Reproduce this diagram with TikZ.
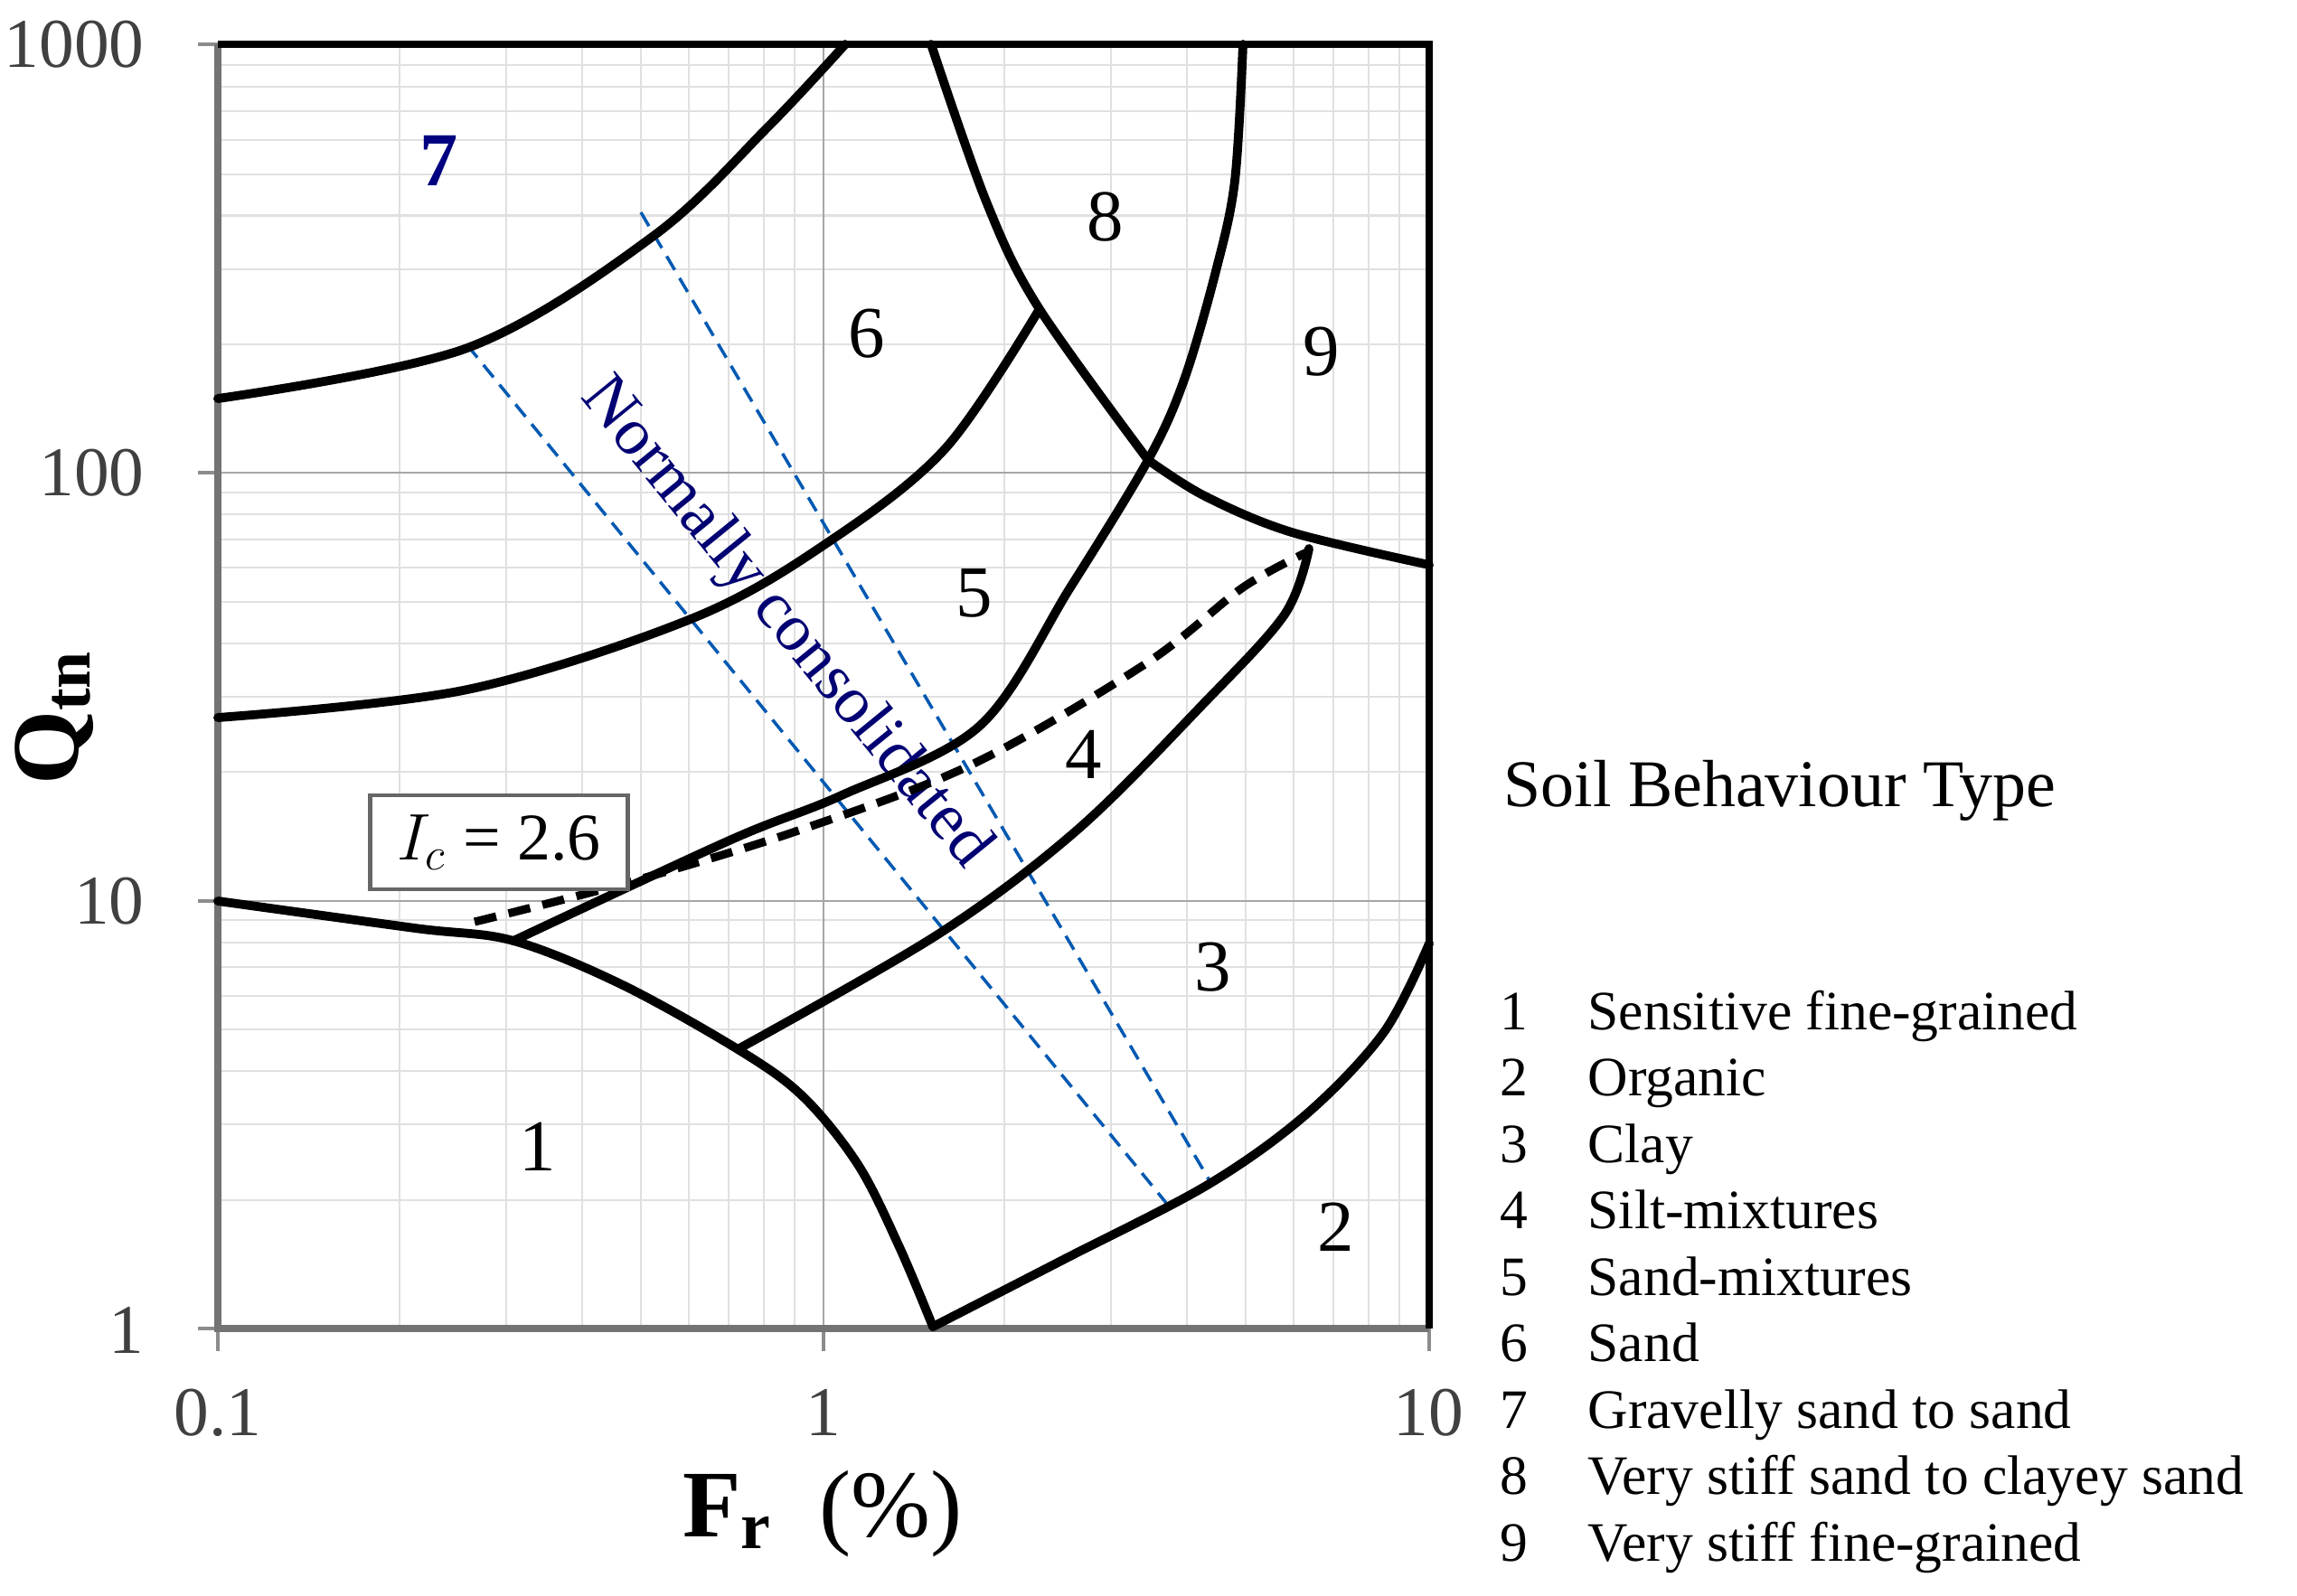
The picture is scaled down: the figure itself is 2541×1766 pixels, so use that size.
\documentclass[tikz,border=0pt]{standalone}
\usepackage{fontspec}
\setmainfont{Liberation Serif}
\begin{document}
\begin{tikzpicture}[x=0.01cm,y=-0.01cm,
  minorgrid/.style={draw=black!12,line width=0.6pt},
  majorgrid/.style={draw=black!35,line width=0.8pt},
  zone/.style={draw=black,line width=2.8pt,line cap=round,line join=round},
  ncline/.style={draw=blue!50!cyan!70!black,line width=1pt,dash pattern=on 5pt off 3pt},
  icline/.style={draw=black,line width=2.6pt,dash pattern=on 7pt off 4pt},
  ticklab/.style={font=\fontsize{22}{22}\selectfont,text=black!75},
  znum/.style={font=\fontsize{23}{23}\selectfont},
  leg/.style={font=\fontsize{17.5}{17.5}\selectfont,anchor=base west,inner sep=0pt}]
\useasboundingbox[fill=white] (0,0) rectangle (2541,1766);
% grid
\foreach \d in {0,1}{\foreach \m in {2,...,9}{
  \pgfmathsetmacro\xx{241+669*(\d+log10(\m))}
  \draw[minorgrid] (\xx,49) -- (\xx,1470);}}
\foreach \d in {0,1,2}{\foreach \m in {2,...,9}{
  \pgfmathsetmacro\yy{1470-473.3*(\d+log10(\m))}
  \draw[minorgrid] (241,\yy) -- (1581,\yy);}}
\draw[majorgrid] (911,49) -- (911,1470);
\foreach \yy in {523,997}{\draw[majorgrid] (241,\yy) -- (1581,\yy);}
% ticks
\foreach \yy in {49,523,997,1470}{\draw[black!45,line width=1pt] (219,\yy) -- (241,\yy);}
\foreach \xx in {241,911,1581}{\draw[black!45,line width=1pt] (\xx,1470) -- (\xx,1495);}
% frame
\draw[black!55,line width=2.4pt] (241,49) -- (241,1470) -- (1581,1470);
\draw[black,line width=2.4pt] (241,49) -- (1581,49) -- (1581,1470);
% tick labels
\node[ticklab,anchor=east] (y1000) at (172,49) {1000};
\node[ticklab,anchor=east] (y100) at (172,523) {100};
\node[ticklab,anchor=east] (y10) at (172,997) {10};
\node[ticklab,anchor=east] (y1) at (172,1472) {1};
\node[ticklab] (x01) at (241,1563) {0.1};
\node[ticklab] (x1) at (911,1563) {1};
\node[ticklab] (x10) at (1580,1563) {10};
% axis titles
\node[rotate=90,font=\fontsize{30}{30}\selectfont\bfseries] (qt) at (60,794) {Q\textsubscript{tn}};
\node[font=\fontsize{30}{30}\selectfont,anchor=base] (fr) at (910,1700) {\textbf{F\textsubscript{r}}\ \ (\%)};
% NC lines
\draw[ncline] (517,382) -- (1290,1331);
\draw[ncline] (709,235) -- (1339,1308);
\node[rotate=-50.8,font=\fontsize{21}{21}\selectfont,text=blue!45!black] (nc) at (868,690) {Normally consolidated};
% zone boundaries
\draw[zone] plot[smooth,tension=0.55] coordinates {(241,441) (517,385) (723,261) (850,140) (935,49)};
\draw[zone] plot[smooth,tension=0.55] coordinates {(241,794) (517,763) (769,683) (919,598) (1046,496) (1148,345)};
\draw[zone] plot[smooth,tension=0.55] coordinates {(1030,49) (1091,223) (1148,339) (1270,509)};
\draw[zone] plot[smooth,tension=0.55] coordinates {(1270,509) (1333,549) (1429,589) (1581,625)};
\draw[zone] plot[smooth,tension=0.55] coordinates {(1375,49) (1366,200) (1345,300) (1310,420) (1270,509) (1184,650) (1084,803) (931,880) (809,929) (568,1041)};
\draw[zone] plot[smooth,tension=0.55] coordinates {(818,1160) (1039,1033) (1192,918) (1330,780) (1421,680) (1448,607)};
\draw[zone] plot[smooth,tension=0.55] coordinates {(241,997) (459,1027) (568,1041) (689,1090) (821,1164) (890,1215) (950,1290) (995,1380) (1032,1468)};
\draw[zone] plot[smooth,tension=0.55] coordinates {(1032,1468) (1176,1394) (1336,1311) (1445,1233) (1531,1142) (1581,1044)};
% Ic line
\draw[icline] plot[smooth,tension=0.55] coordinates {(525,1020) (700,975) (886,918) (1077,845) (1268,734) (1375,650) (1448,610)};
\node[draw=black!60,line width=1.2pt,fill=white,minimum width=2.85cm,minimum height=1.04cm,font=\fontsize{21}{21}\selectfont] (ic) at (552,932) {$I_c$ = 2.6};
% zone numbers
\node[znum,font=\fontsize{24}{24}\selectfont\bfseries,text=blue!50!black] (z7) at (486,178) {7};
\node[znum] (z6) at (959,369) {6};
\node[znum] (z8) at (1223,240) {8};
\node[znum] (z9) at (1462,389) {9};
\node[znum] (z5) at (1078,656) {5};
\node[znum] (z4) at (1199,835) {4};
\node[znum] (z3) at (1342,1070) {3};
\node[znum] (z1) at (595,1269) {1};
\node[znum] (z2) at (1478,1358) {2};
% legend
\node[leg,font=\fontsize{21}{21}\selectfont] (lt) at (1663,892) {Soil Behaviour Type};
\foreach \n/\t [count=\i from 0] in {1/Sensitive fine-grained,2/Organic,3/Clay,4/Silt-mixtures,5/Sand-mixtures,6/Sand,7/Gravelly sand to sand,8/Very stiff sand to clayey sand,9/Very stiff fine-grained}{
  \node[leg] (ln\n) at (1659,1139+73.5*\i) {\n};
  \node[leg] (lt\n) at (1756,1139+73.5*\i) {\t};}
\end{tikzpicture}
\end{document}
